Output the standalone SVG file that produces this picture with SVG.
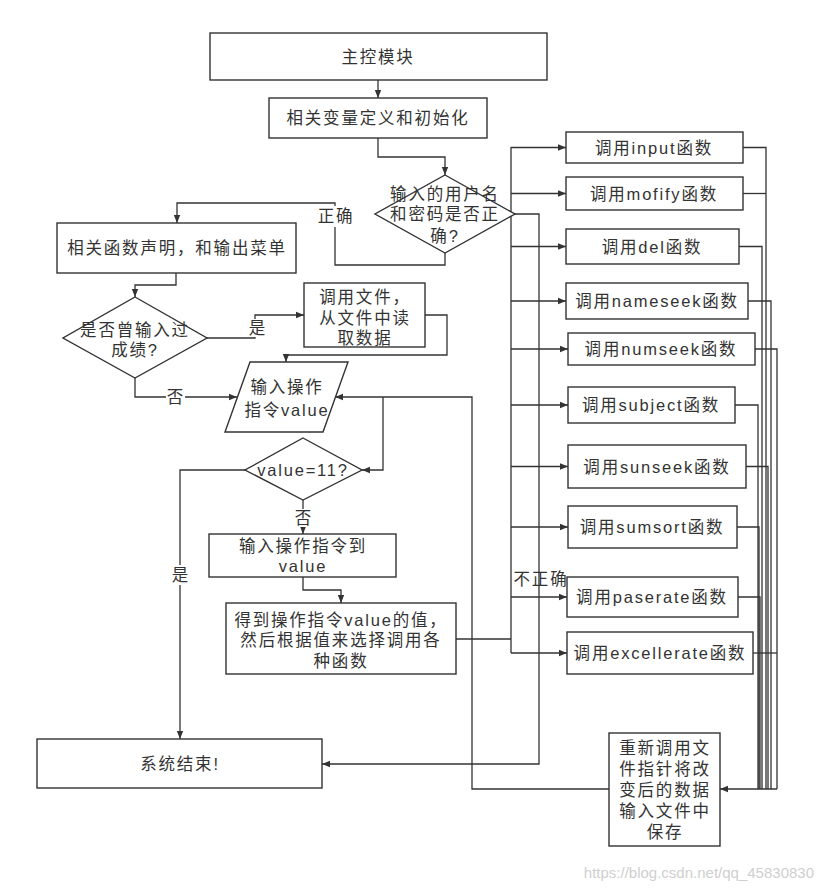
<svg xmlns="http://www.w3.org/2000/svg" width="824" height="890" viewBox="0 0 824 890">
<style>
.n{fill:#fff;stroke:#333;stroke-width:1.4}
.t{font-family:"Liberation Sans","Noto Sans CJK SC",sans-serif;font-size:16.5px;fill:#333;text-anchor:middle;dominant-baseline:central;letter-spacing:1.8px}
.c{fill:none;stroke:#333;stroke-width:1.3}
.a{marker-end:url(#ah)}
.lb{fill:#fff}
.wm{font-family:"Liberation Sans",sans-serif;font-size:15px;fill:#cfcfcf;text-anchor:end;dominant-baseline:central}
</style>
<defs>
<marker id="ah" viewBox="0 0 10 10" refX="10" refY="5" markerWidth="8" markerHeight="8" markerUnits="userSpaceOnUse" orient="auto">
<path d="M0,1 L10,5 L0,9 z" fill="#333"/>
</marker>
</defs>
<rect width="824" height="890" fill="#fff"/>
<g id="connectors">
<path class="c a" d="M378,80 V98"/>
<path class="c a" d="M378,138 V157 H445 V175"/>
<path class="c a" d="M445,253 V265 H335 V203 H177 V223"/>
<path class="c a" d="M176,273 V285 H135 V297"/>
<path class="c a" d="M207,338 H255 V315 H304"/>
<path class="c a" d="M425,315 H447 V355 H286 V362"/>
<path class="c a" d="M135,378 V397 H237"/>
<path class="c a" d="M609,789 H472 V397 H335"/>
<path class="c a" d="M383,397 V470 H362"/>
<path class="c a" d="M245,470 H180 V739"/>
<path class="c a" d="M303,500 V534"/>
<path class="c a" d="M303,577 V590 H341 V603"/>
<path class="c" d="M456,639 H511 M511,147 V653"/>
<path class="c a" d="M511,147.5 H566"/>
<path class="c a" d="M511,193.5 H566"/>
<path class="c a" d="M511,246.5 H566"/>
<path class="c a" d="M511,301 H566"/>
<path class="c a" d="M511,349 H568"/>
<path class="c a" d="M511,405 H568"/>
<path class="c a" d="M511,466.5 H568"/>
<path class="c a" d="M511,527 H568"/>
<path class="c a" d="M511,597 H567"/>
<path class="c a" d="M511,653 H567"/>
<path class="c a" d="M515,214 H539 V764 H322"/>
<path class="c" d="M743,147.5 H766 V789"/>
<path class="c" d="M743,193.5 H766"/>
<path class="c" d="M739,246.5 H762 V789"/>
<path class="c" d="M748,301 H771 V789"/>
<path class="c" d="M755,349 H777 V789"/>
<path class="c" d="M735,405 H758 V789"/>
<path class="c" d="M746,466.5 H768 V789"/>
<path class="c" d="M737,527 H759 V789"/>
<path class="c" d="M738,597 H760 V789"/>
<path class="c" d="M753,653 H777"/>
<path class="c a" d="M777,789 H720"/>
<rect class="lb" x="318" y="206" width="36" height="21"/>
<text class="t" x="336" y="216">正确</text>
<rect class="lb" x="248" y="319" width="18" height="18"/>
<text class="t" x="258" y="328">是</text>
<rect class="lb" x="166" y="389" width="19" height="17"/>
<text class="t" x="176" y="397">否</text>
<rect class="lb" x="171" y="565" width="19" height="20"/>
<text class="t" x="181" y="575">是</text>
<rect class="lb" x="294" y="509" width="19" height="18"/>
<text class="t" x="304" y="518">否</text>
<text class="t" x="541" y="579">不正确</text>
</g>
<g id="main">
<rect class="n" x="210" y="33" width="337" height="47"/>
<text class="t" x="378" y="57">主控模块</text>
</g>
<g id="init">
<rect class="n" x="269" y="98" width="218" height="40"/>
<text class="t" x="378" y="118">相关变量定义和初始化</text>
</g>
<g id="login">
<path class="n" d="M445,175 L515,214 L445,253 L375,214 Z"/>
<text class="t" x="445" y="194">输入的用户名</text>
<text class="t" x="445" y="214">和密码是否正</text>
<text class="t" x="445" y="236">确?</text>
</g>
<g id="menu">
<rect class="n" x="57" y="223" width="239" height="50"/>
<text class="t" x="177" y="248">相关函数声明，和输出菜单</text>
</g>
<g id="hasinput">
<path class="n" d="M135,297 L207,338 L135,378 L63,338 Z"/>
<text class="t" x="135" y="330">是否曾输入过</text>
<text class="t" x="135" y="350">成绩?</text>
</g>
<g id="readfile">
<rect class="n" x="304" y="283" width="121" height="64"/>
<text class="t" x="365" y="297">调用文件，</text>
<text class="t" x="365" y="318">从文件中读</text>
<text class="t" x="365" y="338">取数据</text>
</g>
<g id="inputcmd">
<path class="n" d="M250,362 L348,362 L323,432 L225,432 Z"/>
<text class="t" x="287" y="387">输入操作</text>
<text class="t" x="287" y="410">指令value</text>
</g>
<g id="check11">
<path class="n" d="M303,438 L362,470 L303,500 L245,470 Z"/>
<text class="t" x="303" y="470">value=11?</text>
</g>
<g id="cmdto">
<rect class="n" x="209" y="534" width="187" height="43"/>
<text class="t" x="303" y="546">输入操作指令到</text>
<text class="t" x="303" y="566">value</text>
</g>
<g id="dispatch">
<rect class="n" x="226" y="603" width="230" height="71"/>
<text class="t" x="341" y="620">得到操作指令value的值，</text>
<text class="t" x="341" y="640">然后根据值来选择调用各</text>
<text class="t" x="341" y="661">种函数</text>
</g>
<g id="end">
<rect class="n" x="37" y="739" width="285" height="49"/>
<text class="t" x="180" y="764">系统结束!</text>
</g>
<g id="f-input"><rect class="n" x="566" y="132" width="177" height="31"/><text class="t" x="654" y="147.5">调用input函数</text></g>
<g id="f-mofify"><rect class="n" x="566" y="177" width="177" height="33"/><text class="t" x="654" y="193.5">调用mofify函数</text></g>
<g id="f-del"><rect class="n" x="566" y="229" width="173" height="35"/><text class="t" x="652" y="246.5">调用del函数</text></g>
<g id="f-nameseek"><rect class="n" x="566" y="283" width="182" height="36"/><text class="t" x="657" y="301">调用nameseek函数</text></g>
<g id="f-numseek"><rect class="n" x="568" y="333" width="187" height="32"/><text class="t" x="661" y="349">调用numseek函数</text></g>
<g id="f-subject"><rect class="n" x="568" y="387" width="167" height="36"/><text class="t" x="651" y="405">调用subject函数</text></g>
<g id="f-sunseek"><rect class="n" x="568" y="445" width="178" height="43"/><text class="t" x="657" y="466.5">调用sunseek函数</text></g>
<g id="f-sumsort"><rect class="n" x="568" y="506" width="169" height="42"/><text class="t" x="652" y="527">调用sumsort函数</text></g>
<g id="f-paserate"><rect class="n" x="567" y="577" width="171" height="40"/><text class="t" x="652" y="597">调用paserate函数</text></g>
<g id="f-excellerate"><rect class="n" x="567" y="632" width="186" height="42"/><text class="t" x="660" y="653">调用excellerate函数</text></g>
<g id="save">
<rect class="n" x="609" y="733" width="111" height="113"/>
<text class="t" x="665" y="748">重新调用文</text>
<text class="t" x="665" y="769">件指针将改</text>
<text class="t" x="665" y="790">变后的数据</text>
<text class="t" x="665" y="811">输入文件中</text>
<text class="t" x="665" y="832">保存</text>
</g>
<text class="wm" x="814" y="872">https://blog.csdn.net/qq_45830830</text>
</svg>
